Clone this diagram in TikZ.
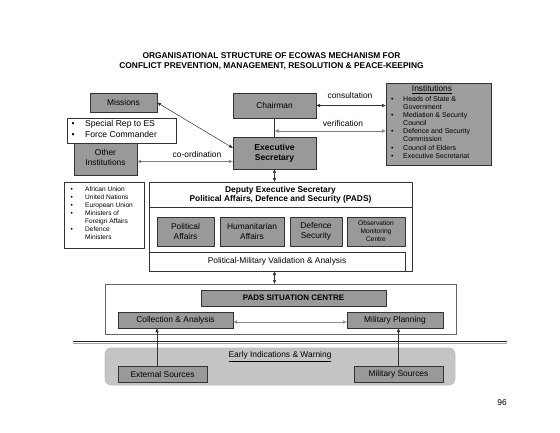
\documentclass[tikz,border=0pt]{standalone}
\usepackage{fontspec}
\setmainfont{Liberation Sans}
\usetikzlibrary{arrows.meta}
\begin{document}
\begin{tikzpicture}[x=1pt,y=-1pt,
 gbox/.style={draw=black!80, fill=black!40, line width=0.6pt, inner sep=0pt, outer sep=0pt, anchor=north west, align=center, font=\fontsize{8.4}{9.8}\selectfont},
 wbox/.style={gbox, fill=white},
 arr/.style={{Latex[length=4pt,width=3.5pt]}-{Latex[length=4pt,width=3.5pt]}, draw=black!80, line width=0.5pt},
 uarr/.style={-{Latex[length=4pt,width=3.5pt]}, draw=black!80, line width=0.5pt},
 lbl/.style={font=\fontsize{8.4}{10}\selectfont, inner sep=0pt},
 listtxt/.style={inner sep=0pt, anchor=base west, align=left}
]
\useasboundingbox[fill=white] (0,0) rectangle (560,433);

% title
\node[font=\bfseries\fontsize{8.4}{10}\selectfont, align=center, inner sep=0pt] (title) at (271.5,61)
 {ORGANISATIONAL STRUCTURE OF ECOWAS MECHANISM FOR\\CONFLICT PREVENTION, MANAGEMENT, RESOLUTION \& PEACE-KEEPING};

% top left
\node[gbox, minimum width=67pt, minimum height=19pt] (missions) at (90,93) {Missions};
\node[gbox, minimum width=63pt, minimum height=37pt] (other) at (74,138) {};
\node[lbl, align=center, font=\fontsize{8.4}{10}\selectfont] (othertxt) at (105.5,157) {Other\\Institutions};
\node[wbox, minimum width=109pt, minimum height=25pt] (rep) at (67,118) {};
\node[listtxt, font=\fontsize{8.6}{11}\selectfont] (replist) at (71.5,127)
 {\begin{tabular}[t]{@{}p{13.5pt}@{}l@{}}•&Special Rep to ES\\ •&Force Commander\end{tabular}};

% chairman / exec sec
\node[gbox, minimum width=83pt, minimum height=25pt] (chair) at (233,93) {Chairman};
\node[gbox, minimum width=83pt, minimum height=32pt, font=\bfseries\fontsize{8.6}{10}\selectfont] (es) at (233,137) {Executive\\Secretary};

% institutions
\node[gbox, fill=black!38, minimum width=105pt, minimum height=82pt] (inst) at (386,83) {};
\node[lbl] (insttitle) at (432,89.5) {\underline{Institutions}};
\node[listtxt, font=\fontsize{7}{8.1}\selectfont] (instlist) at (391,101.5)
 {\begin{tabular}[t]{@{}p{12pt}@{}l@{}}•&Heads of State \&\\ &Government\\ •&Mediation \& Security\\ &Council\\ •&Defence and Security\\ &Commission\\ •&Council of Elders\\ •&Executive Secretariat\end{tabular}};

% connectors top
\draw[line width=0.6pt, draw=black!80] (chair.south) -- (es.north);
\draw[arr] (chair.east) -- (chair.east -| inst.west);
\node[lbl] (consult) at (350,95) {consultation};
\coordinate (vl) at (274.5,131);
\draw[arr, draw=black!50] (vl) -- (vl -| inst.west);
\node[lbl] (verif) at (343,123.5) {verification};
\draw[arr] (missions.east) -- ([yshift=5pt]es.west);
\draw[arr, draw=black!50] ([yshift=-5pt]other.east) -- ([yshift=-5pt]other.east -| es.west);
\node[lbl] (coord) at (197,154) {co-ordination};

% left list
\node[wbox, minimum width=80pt, minimum height=66pt] (leftbox) at (64,182) {};
\node[listtxt, font=\fontsize{6.6}{8}\selectfont] (leftlist) at (70.5,191.3)
 {\begin{tabular}[t]{@{}p{14.5pt}@{}l@{}}•&African Union\\ •&United Nations\\ •&European Union\\ •&Ministers of\\ &Foreign Affairs\\ •&Defence\\ &Ministers\end{tabular}};

% DES
\node[wbox, minimum width=263pt, minimum height=89pt] (des) at (149,182) {};
\draw[line width=0.6pt, draw=black!80] ([yshift=-25pt]des.north west) -- ([yshift=-25pt]des.north east);
\node[lbl, font=\bfseries\fontsize{8.4}{9.5}\selectfont, align=center] (destxt) at (280.5,195) {Deputy Executive Secretary\\Political Affairs, Defence and Security (PADS)};
\node[gbox, minimum width=57pt, minimum height=29pt] (pol) at (157,217) {Political\\Affairs};
\node[gbox, minimum width=64pt, minimum height=29pt] (hum) at (220,217) {Humanitarian\\Affairs};
\node[gbox, minimum width=52pt, minimum height=29pt] (def) at (290,217) {Defence\\Security};
\node[gbox, minimum width=58pt, minimum height=29pt, font=\fontsize{6.6}{8}\selectfont] (obs) at (347,217) {Observation\\Monitoring\\Centre};
\node[wbox, minimum width=256pt, minimum height=19pt] (val) at (149,252) {Political-Military Validation \& Analysis};

\draw[arr] (es.south) -- (es.south |- des.north);

% PADS
\node[wbox, draw=black!60, minimum width=351pt, minimum height=50pt] (pads) at (105,284) {};
\draw[arr] (es.south |- val.south) -- (es.south |- pads.north);
\node[gbox, minimum width=185pt, minimum height=16pt, font=\bfseries\fontsize{8}{9.5}\selectfont] (sit) at (201,290) {PADS SITUATION CENTRE};
\node[gbox, minimum width=115pt, minimum height=16pt] (coll) at (118,312) {Collection \& Analysis};
\node[gbox, minimum width=96pt, minimum height=16pt] (milp) at (347,312) {Military Planning};
\draw[arr, draw=black!45] ([yshift=-2pt]coll.east) -- ([yshift=-2pt]coll.east -| milp.west);

% thick line
\draw[line width=1.6pt, draw=black!85] (73,341.5) -- (507,341.5);
\draw[line width=1.2pt, draw=black!35] (73,343.2) -- (507,343.2);

% early warning
\node[gbox, fill=black!23, draw=black!25, rounded corners=6pt, minimum width=350pt, minimum height=37pt] (early) at (105,348) {};
\node[lbl] (earlytxt) at (280,356.5) {\underline{Early Indications \& Warning}};
\node[gbox, minimum width=89pt, minimum height=16pt] (ext) at (118,366) {External Sources};
\node[gbox, minimum width=89pt, minimum height=16pt] (mils) at (354,366) {Military Sources};
\draw[uarr] ([xshift=-5.5pt]ext.north) -- ([xshift=-5.5pt]ext.north |- coll.south);
\draw[uarr] (mils.north) -- (mils.north |- milp.south);

\node[lbl] (page) at (502,403) {96};
\end{tikzpicture}
\end{document}
